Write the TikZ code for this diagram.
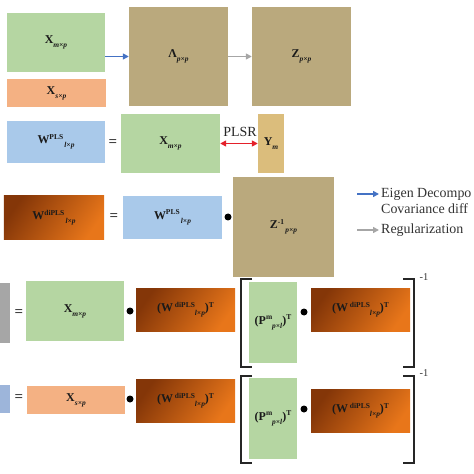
\documentclass[tikz,border=0pt]{standalone}
\usepackage{fontspec}
\setmainfont{Liberation Serif}
\usetikzlibrary{arrows.meta}
\definecolor{cgreen}{HTML}{B5D6A2}
\definecolor{csalmon}{HTML}{F4B183}
\definecolor{ctan}{HTML}{BAA97D}
\definecolor{cgold}{HTML}{DBBD7C}
\definecolor{cblue}{HTML}{A9C9EA}
\definecolor{cblue2}{HTML}{9DB5DA}
\definecolor{cgray}{HTML}{A6A6A6}
\definecolor{cdark}{HTML}{843608}
\definecolor{corange}{HTML}{E8761A}
\definecolor{carrowblue}{HTML}{4472C4}
\definecolor{carrowgray}{HTML}{A6A6A6}
\definecolor{cred}{HTML}{E4202A}
\definecolor{ctext}{HTML}{1A1A1A}
\newcommand\subt[1]{\raisebox{-4pt}{\fontsize{7.5}{7.5}\selectfont\bfseries\itshape #1}}
\newcommand\supt[1]{\raisebox{4.5pt}{\fontsize{7.5}{7.5}\selectfont\bfseries #1}}
\begin{document}
\begin{tikzpicture}[x=1bp,y=-1bp,
  box/.style={rectangle, inner sep=0pt, draw=none, text=ctext,
    font=\fontsize{12}{13}\selectfont\bfseries},
  grad/.style={box, left color=cdark, right color=corange, shading angle=55},
  eqsign/.style={font=\fontsize{15}{15}\selectfont\bfseries, inner sep=0pt, text=black!75},
  dotmark/.style={circle, fill=black, inner sep=0pt, minimum size=7bp},
  bluearrow/.style={draw=carrowblue, line width=1.6bp, -{Triangle[length=6bp,width=6bp]}},
  grayarrow/.style={draw=carrowgray, line width=1.6bp, -{Triangle[length=6bp,width=6bp]}},
  redarrow/.style={draw=cred, line width=1.8bp, {Triangle[length=6bp,width=6bp]}-{Triangle[length=6bp,width=6bp]}},
  bracketline/.style={draw=black!85, line width=2bp},
  legendtext/.style={anchor=west, inner sep=0pt, text=black!80, font=\fontsize{14}{14}\selectfont},
  exptext/.style={inner sep=0pt, text=black!80, font=\fontsize{10.5}{11}\selectfont}
]
\useasboundingbox (0,0) rectangle (474,474);
\clip (0,0) rectangle (474,474);

% row 1
\node[box, fill=cgreen, minimum width=98bp, minimum height=59bp] (xm1) at (56,42.5) {X\subt{m×p}};
\node[box, fill=csalmon, minimum width=99bp, minimum height=28bp] (xs1) at (56.5,93) {X\subt{s×p}};
\node[box, fill=ctan, minimum width=99bp, minimum height=99bp] (lam) at (178.5,56.5) {Λ\subt{p×p}};
\node[box, fill=ctan, minimum width=99bp, minimum height=99bp] (z) at (301.5,56.5) {Z\subt{p×p}};
\draw[bluearrow] (xm1.east |- lam.west) -- (lam.west);
\draw[grayarrow] (lam.east) -- (z.west);

% row 2
\node[box, fill=cblue, minimum width=98bp, minimum height=42bp] (wpls) at (56,142) {W\supt{PLS}\subt{\,l×p}};
\node[eqsign] (eq1) at (113,143) {=};
\node[box, fill=cgreen, minimum width=99bp, minimum height=59bp] (xm2) at (170.5,143.5) {X\subt{m×p}};
\node[box, fill=cgold, minimum width=26bp, minimum height=59bp] (ym) at (271,143.5) {Y\subt{m}};
\draw[redarrow] (xm2.east) -- (ym.west);
\node[inner sep=0pt, text=black!85, font=\fontsize{14}{14}\selectfont] (plsr) at (240,132) {PLSR};

% row 3
\node[grad, minimum width=100bp, minimum height=43bp] (wdi) at (54,217.5) {W\supt{diPLS}\subt{\,l×p}};
\node[eqsign] (eq2) at (114,217) {=};
\node[box, fill=cblue, minimum width=99bp, minimum height=43bp] (wpls2) at (172.5,217.5) {W\supt{PLS}\subt{\,l×p}};
\node[dotmark] (d1) at (228,217) {};
\node[box, fill=ctan, minimum width=101bp, minimum height=100bp] (zinv) at (283.5,227) {Z\supt{-1}\subt{\,p×p}};

% legend
\coordinate (la1) at (357,194);
\coordinate (lb1) at (379,194);
\draw[bluearrow] (la1) -- (lb1);
\node[legendtext] (lt1) at (381,194) {Eigen Decompo};
\node[legendtext] (lt2) at (381,208.5) {Covariance diff};
\coordinate (la2) at (357,230);
\coordinate (lb2) at (379,230);
\draw[grayarrow] (la2) -- (lb2);
\node[legendtext] (lt3) at (381,230) {Regularization};

% row 4
\node[box, fill=cgray, minimum width=10bp, minimum height=60bp] (g4) at (5,313) {};
\node[eqsign] (eq3) at (19,313) {=};
\node[box, fill=cgreen, minimum width=98bp, minimum height=60bp] (xm3) at (75,311) {X\subt{m×p}};
\node[dotmark] (d2) at (130,311) {};
\node[grad, minimum width=99bp, minimum height=43bp] (wt1) at (185.5,309.5) {(W\,\supt{diPLS}\subt{l×p})\supt{T}};
\node[box, fill=cgreen, minimum width=48bp, minimum height=81bp] (p1) at (273,322.5) {(P\supt{m}\subt{p×l})\supt{T}};
\node[dotmark] (d3) at (304,312) {};
\node[grad, minimum width=99bp, minimum height=43bp] (wt2) at (360.5,309.5) {(W\,\supt{diPLS}\subt{l×p})\supt{T}};
\draw[bracketline] (252,279) -- (241,279) -- (241,367) -- (252,367);
\draw[bracketline] (403,279) -- (414,279) -- (414,367) -- (403,367);
\node[exptext] (ex1) at (424,277) {-1};

% row 5
\node[box, fill=cblue2, minimum width=10bp, minimum height=28bp] (b5) at (5,399) {};
\node[eqsign] (eq4) at (19,398) {=};
\node[box, fill=csalmon, minimum width=98bp, minimum height=28bp] (xs2) at (76,400) {X\subt{s×p}};
\node[dotmark] (d4) at (130,399) {};
\node[grad, minimum width=99bp, minimum height=43bp] (wt3) at (185.5,400.5) {(W\,\supt{diPLS}\subt{l×p})\supt{T}};
\node[box, fill=cgreen, minimum width=48bp, minimum height=81bp] (p2) at (273,418.5) {(P\supt{m}\subt{p×l})\supt{T}};
\node[dotmark] (d5) at (304,409) {};
\node[grad, minimum width=99bp, minimum height=43bp] (wt4) at (360.5,410.5) {(W\,\supt{diPLS}\subt{l×p})\supt{T}};
\draw[bracketline] (252,376) -- (241,376) -- (241,463) -- (252,463);
\draw[bracketline] (403,376) -- (414,376) -- (414,463) -- (403,463);
\node[exptext] (ex2) at (424,373) {-1};
\end{tikzpicture}
\end{document}
